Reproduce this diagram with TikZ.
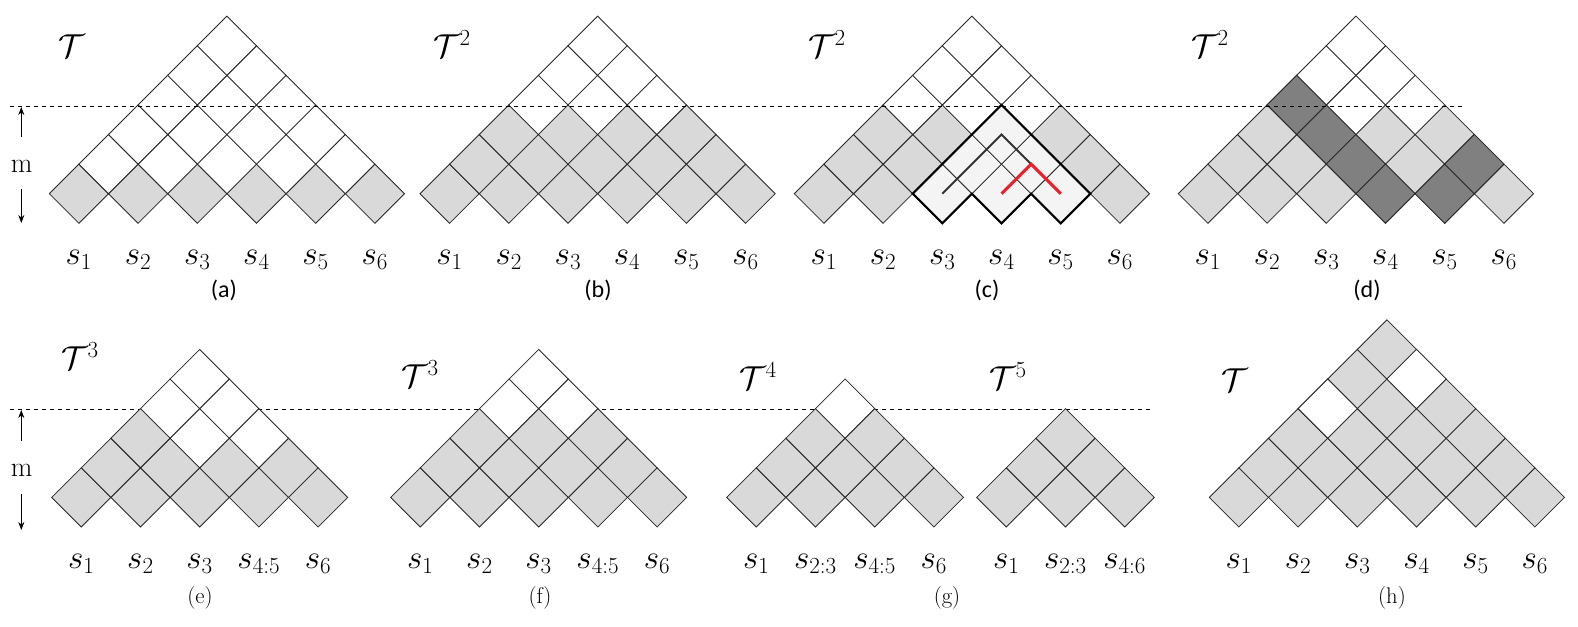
\documentclass[tikz,border=0pt]{standalone}
\usepackage{fontspec}
\usetikzlibrary{arrows.meta}
\newfontfamily\capfont{Carlito}
\definecolor{cgray}{HTML}{D9D9D9}
\definecolor{clight}{HTML}{F4F4F4}
\definecolor{cdark}{HTML}{808080}
\definecolor{cred}{HTML}{E8202A}
\def\dd{29.6}
\newcommand\dcell[5]{%
  \pgfmathsetmacro\cx{#1+\dd*(2*(#4)+1+(#3))}%
  \pgfmathsetmacro\cy{#2-\dd*((#3)+1)}%
  \filldraw[cellsty,fill=#5] (\cx-\dd,\cy)--(\cx,\cy+\dd)--(\cx+\dd,\cy)--(\cx,\cy-\dd)--cycle;}
\newcommand\dpanel[4]{% x0, yb, n, grayrows
  \foreach \k in {1,...,#3}{%
    \pgfmathtruncatemacro\mm{#3-\k+1}%
    \foreach \i in {1,...,\mm}{%
      \pgfmathtruncatemacro\kk{\k-1}\pgfmathtruncatemacro\ii{\i-1}%
      \ifnum\kk<#4\relax\dcell{#1}{#2}{\kk}{\ii}{cgray}\else\dcell{#1}{#2}{\kk}{\ii}{white}\fi}}}
\newcommand\slab[4]{% x0, yb, i, text
  \node[slabel] at ({#1+\dd*(2*(#3)+1)}, {#2+37}) {$#4$};}
\begin{document}
\begin{tikzpicture}[x=0.75pt,y=-0.75pt,
  cellsty/.style={draw=black!85,line width=0.6pt},
  slabel/.style={font=\fontsize{25}{27}\selectfont},
  tlabel/.style={font=\fontsize{24}{26}\selectfont},
  caption/.style={font=\fontsize{17}{19}\selectfont},
  capsans/.style={font=\capfont\fontsize{18}{20}\selectfont},
  mlabel/.style={font=\fontsize{21}{23}\selectfont},
  dline/.style={dashed,line width=0.6pt},
  marrow/.style={-{Stealth[length=6pt,width=4.5pt]},line width=0.6pt}]
\useasboundingbox (0,0) rectangle (1578,627);
% ---------- row 1 ----------
\dpanel{49.3}{223.3}{6}{1}
\dpanel{420}{223.3}{6}{3}
\dpanel{794.3}{223.3}{6}{3}
\foreach \kk/\ii in {0/2,0/3,0/4,1/2,1/3,2/2}{\dcell{794.3}{223.3}{\kk}{\ii}{clight}}
\dpanel{1178.3}{223.3}{6}{3}
\foreach \kk/\ii in {3/0,2/1,1/2,0/3,0/4,1/4}{\dcell{1178.3}{223.3}{\kk}{\ii}{cdark}}
% panel (c) overlays
\begin{scope}[shift={(794.3,223.3)}]
\draw[line width=1.6pt,line join=miter]
  (4*\dd,-\dd)--(5*\dd,0)--(6*\dd,-\dd)--(7*\dd,0)--(8*\dd,-\dd)--(9*\dd,0)--(10*\dd,-\dd)--(7*\dd,-4*\dd)--cycle;
\draw[line width=1.4pt,black!80] (5*\dd,-\dd)--(7*\dd,-3*\dd)--(9*\dd,-\dd);
\draw[line width=2.3pt,cred] (7*\dd,-\dd)--(8*\dd,-2*\dd)--(9*\dd,-\dd);
\end{scope}
\draw[dline] (10,106.7)--(1462,106.7);
\draw[dline] (10,409)--(1152,409);
% m arrows
\node[mlabel] (m1) at (21.7,166) {m};
\draw[marrow] (21.3,137)--(21.3,107);
\draw[marrow] (21.3,189)--(21.3,223);
\node[mlabel] (m2) at (21.7,470) {m};
\draw[marrow] (21.3,441)--(21.3,410);
\draw[marrow] (21.3,494)--(21.3,530);
% T labels
\node[tlabel] at (72,46) {$\mathcal{T}$};
\node[tlabel] at (452,44) {$\mathcal{T}^2$};
\node[tlabel] at (827,44) {$\mathcal{T}^2$};
\node[tlabel] at (1210,44) {$\mathcal{T}^2$};
% s labels row 1
\foreach \xo in {49.3,420,794.3,1178.3}{
  \foreach \i in {1,...,6}{\pgfmathtruncatemacro\ii{\i-1}\slab{\xo}{223.3}{\ii}{s_{\i}}}}
\node[capsans] at (224,290) {(a)};
\node[capsans] at (598,290) {(b)};
\node[capsans] at (987,290) {(c)};
\node[capsans] at (1367,290) {(d)};
% ---------- row 2 ----------
\dpanel{51.7}{527}{5}{2}
\dcell{51.7}{527}{2}{0}{cgray}
\dpanel{390.7}{527}{5}{3}
\dpanel{726.7}{527}{4}{3}
\dpanel{976.7}{527}{3}{3}
\dpanel{1209.3}{527}{6}{6}
\dcell{1209.3}{527}{3}{0}{white}
\dcell{1209.3}{527}{4}{1}{white}
\node[tlabel] at (80,356) {$\mathcal{T}^3$};
\node[tlabel] at (420,374) {$\mathcal{T}^3$};
\node[tlabel] at (758,376) {$\mathcal{T}^4$};
\node[tlabel] at (1008,376) {$\mathcal{T}^5$};
\node[tlabel] at (1235,380) {$\mathcal{T}$};
\foreach \xo in {51.7,390.7}{
  \slab{\xo}{527}{0}{s_1}\slab{\xo}{527}{1}{s_2}\slab{\xo}{527}{2}{s_3}
  \slab{\xo}{527}{3}{s_{4:5}}\slab{\xo}{527}{4}{s_6}}
\slab{726.7}{527}{0}{s_1}\slab{726.7}{527}{1}{s_{2:3}}\slab{726.7}{527}{2}{s_{4:5}}\slab{726.7}{527}{3}{s_6}
\slab{976.7}{527}{0}{s_1}\slab{976.7}{527}{1}{s_{2:3}}\slab{976.7}{527}{2}{s_{4:6}}
\foreach \i in {1,...,6}{\pgfmathtruncatemacro\ii{\i-1}\slab{1209.3}{527}{\ii}{s_{\i}}}
\node[caption] at (200,598) {(e)};
\node[caption] at (540,598) {(f)};
\node[caption] at (947,598) {(g)};
\node[caption] at (1392,598) {(h)};
\end{tikzpicture}
\end{document}
